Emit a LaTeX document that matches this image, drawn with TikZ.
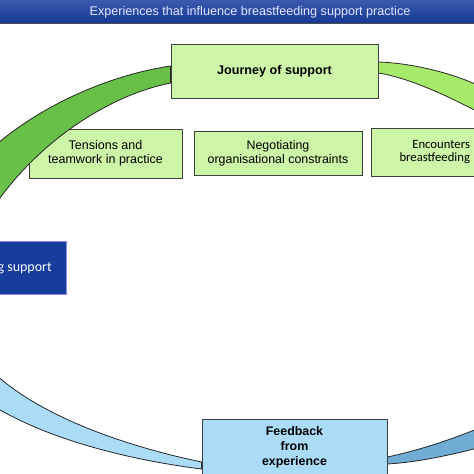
\documentclass[tikz,border=0pt]{standalone}
\usepackage{fontspec}
\setmainfont{Liberation Sans}
\newfontfamily\calibrifont{Carlito}
\usepackage{xcolor}
\usetikzlibrary{positioning}

\definecolor{boxgreen}{RGB}{204,245,168}
\definecolor{bandgreen}{RGB}{104,192,72}
\definecolor{paleband}{RGB}{166,234,106}
\definecolor{boxblue}{RGB}{170,220,248}
\definecolor{bandblue}{RGB}{112,172,212}
\definecolor{deepblue}{RGB}{22,60,158}

\begin{document}
\begin{tikzpicture}[x=1pt, y=-1pt,
		themebox/.style={draw=black!75, line width=0.8pt, fill=boxgreen, align=center, inner sep=0pt,
			font=\fontsize{12.5}{14}\selectfont},
		band/.style={draw=black!85, line width=0.8pt}]
		\useasboundingbox (0,0) rectangle (474,474);
		
		% Title bar
		\shade[top color=deepblue!85!white, bottom color=deepblue!95!black] (0,0) rectangle (474,23);
		\draw[black!70, line width=0.8pt] (0,23) -- (474,23);
		\node (title) at (250,12) [text=white!90!blue, font=\fontsize{12.6}{14}\selectfont]
		{Experiences that influence breastfeeding support practice};
		
		% Themes under the green arc
		\node[themebox, minimum width=153pt, minimum height=49pt] (tensions) at (105.5,153.5)
		{Tensions and\\teamwork in practice};
		
		% Arc segments
		\node[themebox, minimum width=207pt, minimum height=54pt] (journey) at (274.5,71) {};
		\fill[band, fill=bandgreen] ([yshift=5pt]journey.west) .. controls (110,75) and (40,105) .. (-10,150)
		-- (-5,205) .. controls (40,140) and (110,95) .. ([yshift=-12pt]journey.west) -- cycle;
		\fill[band, fill=paleband] ([yshift=9pt]journey.east) .. controls (410,63) and (450,72) .. (482,87)
		-- (482,114) .. controls (450,97) and (410,78) .. ([yshift=-2pt]journey.east) -- cycle;
		
		\node[themebox, minimum width=185pt, minimum height=56pt, fill=boxblue] (feedback) at (294.5,447) {};
		\fill[band, fill=boxblue] ([yshift=-15pt]feedback.west) .. controls (120,445) and (40,415) .. (-5,374)
		-- (-5,407) .. controls (50,440) and (130,460) .. ([yshift=-22pt]feedback.west) -- cycle;
		\fill[band, fill=bandblue] ([yshift=-10pt]feedback.east) .. controls (420,450) and (450,440) .. (482,427)
		-- (482,447) .. controls (450,455) and (420,462) .. ([yshift=-17pt]feedback.east) -- cycle;
		
		% Boxes on top of the arcs
		\node[themebox, minimum width=207pt, minimum height=54pt, font=\bfseries\fontsize{12.6}{14}\selectfont]
		(journey) at (274.5,71) {Journey of support};
		\node[themebox, minimum width=185pt, minimum height=56pt, fill=boxblue, font=\bfseries\fontsize{12.4}{15}\selectfont]
		(feedback) at (294.5,447) {Feedback\\from\\experience};
		\node[themebox, minimum width=168pt, minimum height=44pt, font=\fontsize{12.4}{14}\selectfont]
		(negotiating) at (278,153) {Negotiating\\organisational constraints};
		\node[themebox, text width=84pt, inner xsep=15pt, minimum height=48pt, align=right,
		font=\calibrifont\fontsize{12.7}{13}\selectfont] (encounters) at (428,152)
		{Encounters\\breastfeeding};
		
		% Blue box on the left
		\node[draw=blue!45!white, line width=0.6pt, fill=deepblue, minimum width=71pt, minimum height=53pt]
		(supportbox) at (30.5,267.5) {};
		\node[anchor=east, text=white, inner sep=0pt, font=\calibrifont\fontsize{14}{15}\selectfont]
		(supporttext) at (52,268) {ng support};
	\end{tikzpicture}
\end{document}
